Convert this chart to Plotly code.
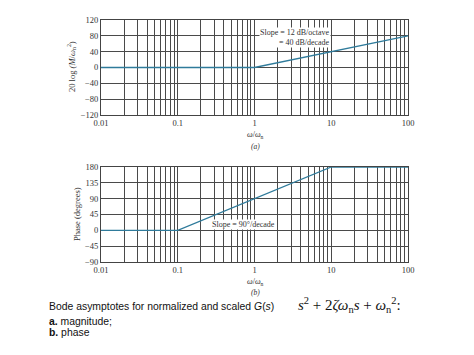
import plotly.graph_objects as go

# Data
mag_freq = [0.01, 1, 100]
mag_db = [0, 0, 80]
phase_freq = [0.01, 0.1, 10, 100]
phase_deg = [0, 0, 180, 180]
x_ticks = [0.01, 0.1, 1, 10, 100]
x_ticklabels = ["0.01", "0.1", "1", "10", "100"]
mag_ticks = [120, 80, 40, 0, -40, -80, -120]
phase_ticks = [180, 135, 90, 45, 0, -45, -90]

# page offset caused by default body margin
OFF = 8
W, H = 474 - OFF, 355 - OFF
L, R = 101, 408
T1, B1 = 20, 115
T2, B2 = 167, 262

def px(x):
    return (x - OFF) / W

def py(y):
    return 1 - (y - OFF) / H

minor_vals = [m * 10 ** e for e in range(-2, 2) for m in range(2, 10)]
line_col = "#2f7b9b"
grid_col = "#4a4a4a"
serif = "Liberation Serif, Times New Roman, serif"
tickfont = dict(family=serif, size=8.5, color="#333")

fig = go.Figure()
fig.add_trace(go.Scatter(x=mag_freq, y=mag_db, mode="lines",
                         line=dict(color=line_col, width=1.3), xaxis="x", yaxis="y", showlegend=False))
fig.add_trace(go.Scatter(x=phase_freq, y=phase_deg, mode="lines",
                         line=dict(color=line_col, width=1.3), xaxis="x2", yaxis="y2", showlegend=False))

xcommon = dict(type="log", range=[-2, 2], tickvals=x_ticks, ticktext=x_ticklabels,
               showgrid=True, gridcolor=grid_col, gridwidth=1,
               minor=dict(tickvals=minor_vals, showgrid=True, gridcolor=grid_col, gridwidth=1, ticklen=0),
               showline=True, mirror=True, linecolor="#444", linewidth=1, automargin=False,
               ticks="", tickfont=tickfont, zeroline=False,
               domain=[px(L), px(R)])

fig.update_layout(
    width=W, height=H, margin=dict(l=0, r=0, t=0, b=0, autoexpand=False),
    paper_bgcolor="white", plot_bgcolor="white",
    xaxis=dict(**xcommon, anchor="y"),
    xaxis2=dict(**xcommon, anchor="y2"),
    yaxis=dict(range=[-120, 120], tickvals=mag_ticks, ticktext=[str(v).replace("-", "\u2212") for v in mag_ticks],
               showgrid=True, gridcolor=grid_col, zeroline=False, showline=True, mirror=True, automargin=False,
               linecolor="#444", ticks="", tickfont=tickfont,
               domain=[py(B1), py(T1)], anchor="x"),
    yaxis2=dict(range=[-90, 180], tickvals=phase_ticks, ticktext=[str(v).replace("-", "\u2212") for v in phase_ticks],
                showgrid=True, gridcolor=grid_col, zeroline=False, showline=True, mirror=True, automargin=False,
                linecolor="#444", ticks="", tickfont=tickfont,
                domain=[py(B2), py(T2)], anchor="x2"),
    showlegend=False,
)

def ann(text, x, y, size=8, family=serif, xanchor="center", yanchor="middle", angle=0, bg=None, color="#333", align="center"):
    d = dict(text=text, x=px(x), y=py(y), xref="paper", yref="paper", showarrow=False,
             font=dict(family=family, size=size, color=color), xanchor=xanchor, yanchor=yanchor,
             textangle=angle, align=align, borderpad=0)
    if bg:
        d["bgcolor"] = bg
    fig.add_annotation(**d)

# Axis titles
ann("20 log <i>(M</i>/<i>ω</i><sub>n</sub><sup>2</sup>)", 72, 67, size=8.5, angle=-90)
ann("Phase (degrees)", 77, 214, size=8.5, angle=-90)
ann("<i>ω</i>/<i>ω</i><sub>n</sub>", 255, 135, size=8)
ann("<i>(a)</i>", 255, 146, size=7.5)
ann("<i>ω</i>/<i>ω</i><sub>n</sub>", 255, 282, size=8)
ann("<i>(b)</i>", 255, 292, size=7.5)

# Slope annotations
ann("Slope = 12 dB/octave<br>  = 40 dB/decade", 331, 38, size=8, xanchor="right", bg="white", align="right")
ann("Slope = 90°/decade", 243, 224, size=8, bg="white")

# Caption
sans = "Liberation Sans, Arial, sans-serif"
ann("Bode asymptotes for normalized and scaled <i>G</i>(<i>s</i>)", 48, 306, size=10.4, family=sans, xanchor="left", color="#111")
ann("<b>a.</b> magnitude;", 48, 321, size=10.4, family=sans, xanchor="left", color="#111")
ann("<b>b.</b> phase", 48, 332, size=10.4, family=sans, xanchor="left", color="#111")
ann("<i>s</i><sup>2</sup> + 2<i>ζω</i><sub>n</sub><i>s</i> + <i>ω</i><sub>n</sub><sup>2</sup>:", 297, 305, size=15,
    family=serif, xanchor="left", color="#111")

fig.write_html("out.html")
